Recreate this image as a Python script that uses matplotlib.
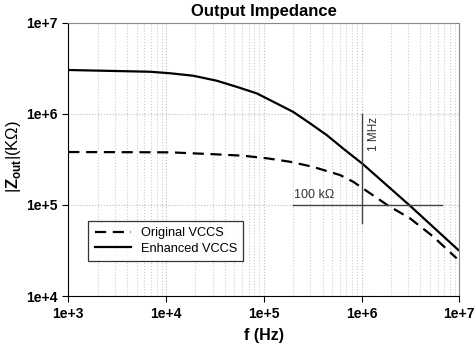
import matplotlib
matplotlib.use("Agg")
import matplotlib.pyplot as plt
import matplotlib.ticker as mticker
import numpy as np

plt.rcParams['font.family'] = ['Liberation Sans', 'DejaVu Sans']
plt.rcParams['mathtext.fontset'] = 'custom'
plt.rcParams['mathtext.rm'] = 'Liberation Sans'
plt.rcParams['mathtext.it'] = 'Liberation Sans'
plt.rcParams['mathtext.bf'] = 'Liberation Sans:bold'

# values (Hz, Ohm)
f_enh = [1e3, 6.85e3, 1.10e4, 1.90e4, 3.30e4, 5.28e4, 8.45e4, 1.355e5, 2.00e5,
         2.97e5, 4.40e5, 6.50e5, 1.03e6, 3.13e6, 9.77e6]
z_enh = [3.03e6, 2.90e6, 2.79e6, 2.62e6, 2.31e6, 1.98e6, 1.68e6, 1.30e6, 1.05e6,
         7.87e5, 5.85e5, 4.15e5, 2.81e5, 9.8e4, 3.20e4]

f_orig = [1e3, 1.10e4, 3.30e4, 6.12e4, 1.08e5, 1.85e5, 3.18e5, 6.01e5, 8.2e5,
          1.03e6, 1.88e6, 3.13e6, 5.42e6, 9.4e6]
z_orig = [3.81e5, 3.78e5, 3.59e5, 3.47e5, 3.25e5, 2.98e5, 2.62e5, 2.13e5, 1.80e5,
          1.52e5, 9.8e4, 7.13e4, 4.48e4, 2.59e4]

# marker lines
mhz_x = [1e6, 1e6]
mhz_y = [9.9e5, 6.4e4]
k100_x = [2.0e5, 6.65e6]
k100_y = [1e5, 1e5]

fig = plt.figure(figsize=(4.74, 3.45), dpi=100)
ax = fig.add_axes([0.1441, 0.142, 0.8249, 0.792])

ax.plot(f_orig, z_orig, color='black', lw=1.6, ls=(0, (5, 3)), label='Original VCCS')
ax.plot(f_enh, z_enh, color='black', lw=1.6, label='Enhanced VCCS')

ax.plot(mhz_x, mhz_y, color='#444444', lw=1.0)
ax.plot(k100_x, k100_y, color='#444444', lw=1.0)
ax.text(1.17e6, 3.9e5, '1 MHz', rotation=90, fontsize=8.5, color='#333333',
        ha='left', va='bottom')
ax.text(2.05e5, 1.1e5, '100 k\u03a9', fontsize=9, color='#333333',
        ha='left', va='bottom')

ax.set_xscale('log')
ax.set_yscale('log')
ax.set_xlim(1e3, 1e7)
ax.set_ylim(1e4, 1e7)

fmt = mticker.FuncFormatter(lambda v, p: '1e+%d' % round(np.log10(v)))
ax.xaxis.set_major_formatter(fmt)
ax.yaxis.set_major_formatter(fmt)
ax.xaxis.set_minor_formatter(mticker.NullFormatter())
ax.yaxis.set_minor_formatter(mticker.NullFormatter())
ax.tick_params(which='minor', length=0)
ax.tick_params(which='major', length=4, direction='out', labelsize=10, pad=4)
for lab in ax.get_xticklabels() + ax.get_yticklabels():
    lab.set_fontweight('bold')

ax.grid(which='major', axis='both', color='#bbbbbb', ls=':', lw=0.8)
ax.grid(which='minor', axis='x', color='#cccccc', ls=':', lw=0.8)

for s in ['top', 'right']:
    ax.spines[s].set_color('#888888')
for s in ['left', 'bottom']:
    ax.spines[s].set_color('black')

ax.set_title('Output Impedance', fontsize=12, fontweight='bold', pad=5)
ax.set_xlabel('f (Hz)', fontsize=11.5, fontweight='bold', labelpad=5)
fig.text(14 / 474, 1 - 157 / 345,
         r'$\left|\mathbf{Z}_{\mathbf{out}}\right|$(K$\Omega$)',
         fontsize=12, rotation=90, ha='center', va='center')

leg = ax.legend(loc='lower left', bbox_to_anchor=(0.035, 0.105), fontsize=9.2,
                frameon=True, fancybox=False, edgecolor='black',
                handlelength=2.8, borderpad=0.5, labelspacing=0.25)
leg.get_frame().set_linewidth(0.9)

fig.savefig('out.png', dpi=100)
